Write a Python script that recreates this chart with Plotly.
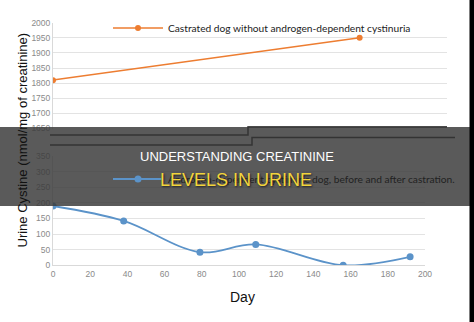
import plotly.graph_objects as go

# Urine cystine measurements (nmol/mg of creatinine) by day
days_castrated = [0, 165]
cystine_castrated = [1810, 1950]

days_adc = [0, 38, 79, 109, 156, 192]
cystine_adc = [190, 142, 42, 67, 0, 27]

name_castrated = "Castrated dog without androgen-dependent cystinuria"
name_adc = "Androgen-dependent cystinuric dog, before and after castration."

W, H = 474, 322
ORANGE = "#ED7D31"
BLUE = "#5B93C9"
GRID = "#e3e3e3"
TICK_FONT = dict(family="Liberation Sans, Arial, sans-serif", size=8.5, color="#8a8a8a")


def px(x):
    return x / W


def py(y):
    return 1 - y / H


fig = go.Figure()

fig.add_trace(go.Scatter(
    x=days_castrated, y=cystine_castrated, name=name_castrated,
    mode="lines+markers", xaxis="x2", yaxis="y2", legend="legend",
    line=dict(color=ORANGE, width=1.5), marker=dict(color=ORANGE, size=6),
))
fig.add_trace(go.Scatter(
    x=days_adc, y=cystine_adc, name=name_adc,
    mode="lines+markers", xaxis="x", yaxis="y", legend="legend2",
    line=dict(color=BLUE, width=1.8, shape="spline", smoothing=1.0),
    marker=dict(color=BLUE, size=7),
))

legend_font = dict(family="Lato, Open Sans, sans-serif", size=10.2, color="#222222")

fig.update_layout(
    width=W, height=H,
    margin=dict(l=0, r=0, t=0, b=0, autoexpand=False),
    paper_bgcolor="white", plot_bgcolor="white",
    xaxis=dict(domain=[px(53), px(425)], range=[0, 200], dtick=20,
               showgrid=False, zeroline=False, showline=True, linecolor="#d9d9d9",
               ticks="", tickfont=TICK_FONT, anchor="y"),
    yaxis=dict(domain=[py(265.3), py(156)], range=[0, 350], dtick=50,
               showgrid=True, gridcolor=GRID, zeroline=False, showline=True,
               linecolor="#d9d9d9", ticks="", tickfont=TICK_FONT, anchor="x"),
    xaxis2=dict(domain=[px(53), px(447)], range=[0, 212], visible=False, anchor="y2"),
    yaxis2=dict(domain=[py(128.5), py(22.7)], range=[1650, 2000], dtick=50,
                showgrid=True, gridcolor=GRID, zeroline=False, showline=True,
                linecolor="#d9d9d9", ticks="", tickfont=TICK_FONT, anchor="x2"),
    legend=dict(x=px(108), y=py(28), xanchor="left", yanchor="middle",
                bgcolor="rgba(0,0,0,0)", font=legend_font, itemwidth=50),
    legend2=dict(x=px(108), y=py(179), xanchor="left", yanchor="middle",
                 bgcolor="rgba(0,0,0,0)", font=legend_font, itemwidth=50),
    showlegend=True,
)

# Axis titles
fig.add_annotation(text="Urine Cystine (nmol/mg of creatinine)", textangle=-90,
                   x=px(13), y=py(140), xref="paper", yref="paper", showarrow=False,
                   font=dict(family="Liberation Sans, Arial, sans-serif", size=13, color="#111"))
fig.add_annotation(text="Day", x=px(242), y=py(307), xref="paper", yref="paper",
                   showarrow=False,
                   font=dict(family="Liberation Sans, Arial, sans-serif", size=14, color="#111"))

# Axis-break edges
def path(points):
    d = "M " + " L ".join(f"{px(a):.5f},{py(b):.5f}" for a, b in points)
    return d

fig.add_shape(type="path", xref="paper", yref="paper", layer="above",
              path=path([(50, 135), (248, 135), (248, 127), (447, 127)]),
              line=dict(color="#111", width=1.5))
fig.add_shape(type="path", xref="paper", yref="paper", layer="above",
              path=path([(50, 145), (252, 145), (252, 137.5), (455, 137.5)]),
              line=dict(color="#111", width=1.5))

# Title banner
fig.add_shape(type="rect", xref="paper", yref="paper", layer="above",
              x0=0, x1=px(470), y0=py(206), y1=py(127),
              fillcolor="rgba(58,58,58,0.84)", line=dict(width=0))
# dark frame edge on the right
fig.add_shape(type="line", xref="paper", yref="paper", layer="above",
              x0=px(472), x1=px(472), y0=0, y1=1,
              line=dict(color="black", width=5))

fig.add_annotation(text="UNDERSTANDING CREATININE", x=px(237), y=py(156.5),
                   xref="paper", yref="paper", showarrow=False,
                   font=dict(family="Liberation Sans, Arial, sans-serif", size=13, color="white"))
fig.add_annotation(text="LEVELS IN URINE", x=px(236), y=py(179.5),
                   xref="paper", yref="paper", showarrow=False,
                   font=dict(family="Liberation Sans, Arial, sans-serif", size=18,
                             color="#F2D43C", shadow="1px 1px 2px #222"))

fig.write_html("out.html")
